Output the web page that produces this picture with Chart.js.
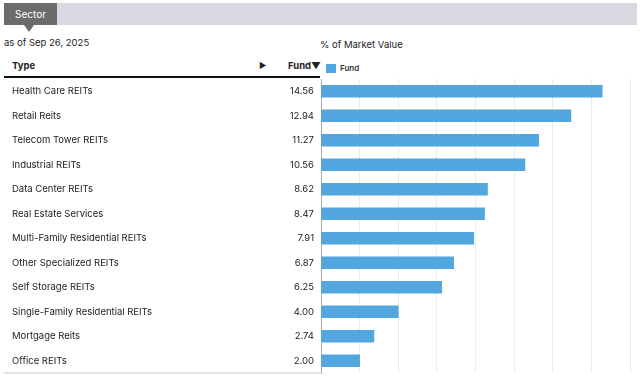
<!DOCTYPE html>
<html>
<head>
<meta charset="utf-8">
<script src="https://cdn.jsdelivr.net/npm/chart.js@4.4.1/dist/chart.umd.min.js"></script>
<style>
  body { margin: 0; background: #fff; font-family: Inter, "Noto Sans", sans-serif; color: #222; }
  #wrap { position: relative; width: 640px; height: 376px; overflow: hidden; }
  #chart { position: absolute; left: 0; top: 0; }
  .abs { position: absolute; white-space: nowrap; }
  #topbar { left: 4px; top: 3px; width: 633px; height: 22px; background: #d9d8e0; }
  #tab { left: 4px; top: 3px; width: 53px; height: 22px; background: #6b6b6b; color: #fff; font-size: 10px; line-height: 22px; text-align: center; }
  #tri { left: 24px; top: 25px; width: 0; height: 0; border-left: 5px solid transparent; border-right: 5px solid transparent; border-top: 7px solid #6b6b6b; }
  #asof { left: 4px; top: 37px; font-size: 9.5px; }
  #mv { left: 320px; top: 39px; font-size: 9.5px; }
  #type { left: 12px; top: 60px; font-size: 9.5px; font-weight: 700; }
  #arrow { left: 259px; top: 60px; font-size: 8px; }
  #fund { left: 288px; top: 60px; font-size: 9.5px; font-weight: 700; }
  #hline { left: 4px; top: 76px; width: 316px; height: 2px; background: #111; }
  #bline { left: 4px; top: 372px; width: 316px; height: 2px; background: #e2e2e2; }
  #legbox { left: 326px; top: 64px; width: 10px; height: 9px; background: #52a8de; }
  #legtxt { left: 340px; top: 63px; font-size: 8px; font-weight: 600; color: #333; }
</style>
</head>
<body>
<div id="wrap">
  <div class="abs" id="topbar"></div>
  <div class="abs" id="tab">Sector</div>
  <div class="abs" id="tri"></div>
  <div class="abs" id="asof">as of Sep 26, 2025</div>
  <div class="abs" id="mv">% of Market Value</div>
  <div class="abs" id="type">Type</div>
  <div class="abs" id="arrow">&#9658;</div>
  <div class="abs" id="fund">Fund&#9660;</div>
  <div class="abs" id="legbox"></div>
  <div class="abs" id="legtxt">Fund</div>
  <canvas id="chart" width="640" height="376"></canvas>
  <div class="abs" id="hline"></div>
  <div class="abs" id="bline"></div>
</div>
<script>
const sectors = [
    'Health Care REITs', 'Retail Reits', 'Telecom Tower REITs', 'Industrial REITs',
    'Data Center REITs', 'Real Estate Services', 'Multi-Family Residential REITs',
    'Other Specialized REITs', 'Self Storage REITs', 'Single-Family Residential REITs',
    'Mortgage Reits', 'Office REITs'
];
const fundValues = [14.56, 12.94, 11.27, 10.56, 8.62, 8.47, 7.91, 6.87, 6.25, 4.00, 2.74, 2.00];
const xTicks = [0, 2, 4, 6, 8, 10, 12, 14, 16];

// draws the table rows (type + value) lined up with the bars
const tableRows = {
    id: 'tableRows',
    afterDraw(chart) {
        const ctx = chart.ctx;
        const y = chart.scales.y;
        ctx.save();
        ctx.font = '9.5px Inter, "Noto Sans", sans-serif';
        ctx.fillStyle = '#222';
        ctx.textBaseline = 'middle';
        for (let i = 0; i < sectors.length; i++) {
            const py = y.getPixelForValue(i);
            ctx.textAlign = 'left';
            ctx.fillText(sectors[i], 12, py);
            ctx.textAlign = 'right';
            ctx.fillText(fundValues[i].toFixed(2), 314, py);
        }
        ctx.restore();
    }
};

new Chart(document.getElementById('chart'), {
    type: 'bar',
    data: {
        labels: sectors,
        datasets: [{
            label: 'Fund',
            data: fundValues,
            backgroundColor: '#52a8de',
            barThickness: 12
        }]
    },
    options: {
        indexAxis: 'y',
        responsive: false,
        animation: false,
        layout: { padding: { left: 321, right: 10, top: 79, bottom: 3 } },
        plugins: {
            legend: { display: false },
            tooltip: { enabled: false }
        },
        scales: {
            x: {
                min: xTicks[0],
                max: xTicks[xTicks.length - 1],
                afterBuildTicks: s => { s.ticks = xTicks.map(v => ({ value: v })); },
                ticks: { display: false },
                grid: { color: '#ebebeb', drawTicks: false },
                border: { display: false },
                afterFit: s => { s.height = 0; }
            },
            y: {
                ticks: { display: false },
                grid: { display: false, drawTicks: false },
                border: { display: true, color: '#aaa' },
                afterFit: s => { s.width = 0; }
            }
        }
    },
    plugins: [tableRows]
});
</script>
</body>
</html>
